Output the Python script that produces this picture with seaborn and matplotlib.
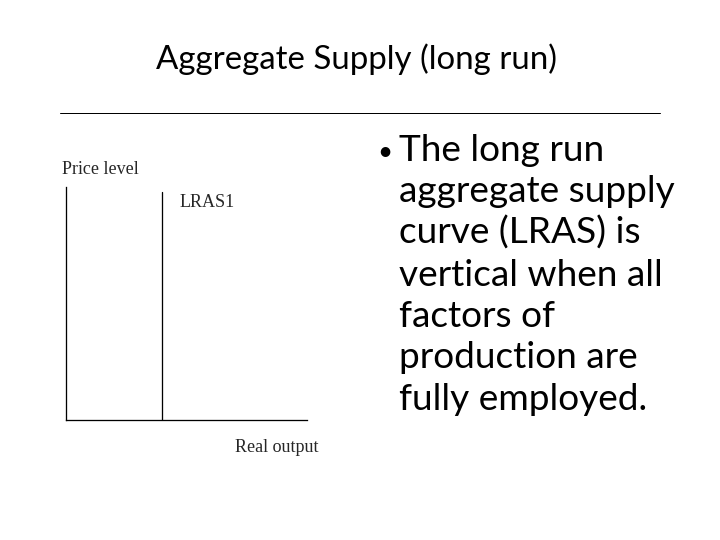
import matplotlib
matplotlib.use("Agg")
import matplotlib.pyplot as plt
from matplotlib.lines import Line2D
import seaborn as sns

# chart data
title = "Aggregate Supply (long run)"
x_label = "Real output"
y_label = "Price level"
curve_label = "LRAS1"
lras_x = [4, 4]
lras_y = [0, 9.8]
bullet_lines = ["The long run", "aggregate supply", "curve (LRAS) is",
                "vertical when all", "factors of", "production are",
                "fully employed."]

sns.set_theme(style="white")
plt.rcParams["font.family"] = ["Lato", "DejaVu Sans"]

W, H = 720, 540
fig = plt.figure(figsize=(10, 7.5), dpi=72)
fig.patch.set_facecolor("white")

def fx(px):
    return px / W

def fy(py):
    return 1 - py / H

# title and rule under it
fig.text(fx(357), fy(69), title, ha="center", va="baseline", fontsize=33, color="black")
fig.add_artist(Line2D([fx(60), fx(660)], [fy(113), fy(113)], color="black", lw=1.0,
                      transform=fig.transFigure))

# small diagram
ax = fig.add_axes([fx(66), fy(420), fx(307) - fx(66), (420 - 187) / H])
sns.lineplot(x=lras_x, y=lras_y, ax=ax, color="black", lw=1.3, sort=False,
             estimator=None, errorbar=None)
ax.set_xlim(0, 10)
ax.set_ylim(0, 10)
ax.set_xticks([])
ax.set_yticks([])
ax.set_xlabel("")
ax.set_ylabel("")
for s in ["top", "right"]:
    ax.spines[s].set_visible(False)
for s in ["left", "bottom"]:
    ax.spines[s].set_color("black")
    ax.spines[s].set_linewidth(1.3)
ax.set_facecolor("white")

serif = ["Liberation Serif", "DejaVu Serif"]
fig.text(fx(62), fy(174), y_label, ha="left", va="baseline", fontsize=18, family=serif)
fig.text(fx(180), fy(207), curve_label, ha="left", va="baseline", fontsize=18, family=serif)
fig.text(fx(235), fy(452), x_label, ha="left", va="baseline", fontsize=18, family=serif)

# bullet text
fig.text(fx(377), fy(160), "\u2022", ha="left", va="baseline", fontsize=26, color="black")
for i, line in enumerate(bullet_lines):
    fig.text(fx(399), fy(161 + 41.5 * i), line, ha="left", va="baseline",
             fontsize=37, color="black")

fig.savefig("out.png", dpi=72, facecolor="white")
